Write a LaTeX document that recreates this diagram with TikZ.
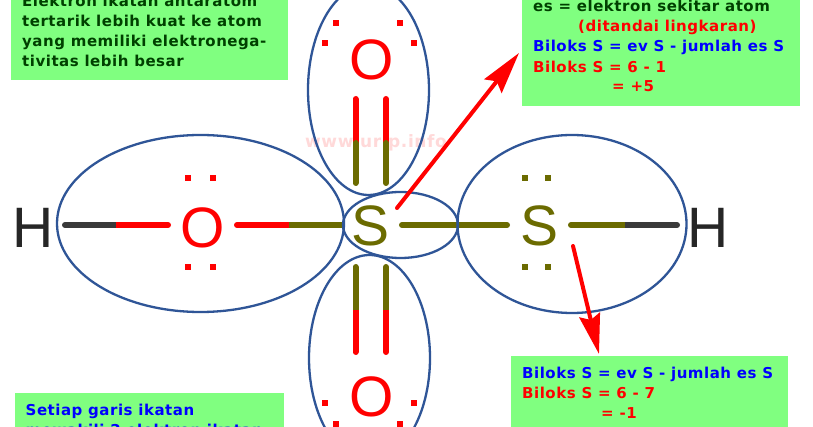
\documentclass[tikz,border=0pt]{standalone}
\usepackage{fontspec}
\usetikzlibrary{arrows.meta,shapes.geometric}
\setmainfont{DejaVu Sans}
\newfontfamily\boxfont[LetterSpace=3.5]{DejaVu Sans Bold}
\newfontfamily\atomfont{Liberation Sans}
\definecolor{boxgreen}{HTML}{80FF80}
\definecolor{darkgreen}{HTML}{004000}
\definecolor{olivebond}{HTML}{6B6B00}
\definecolor{ringblue}{HTML}{2F5597}
\definecolor{bonddark}{HTML}{3A3A3A}
\definecolor{wmpink}{HTML}{FFD9D9}
\tikzset{
  x=1pt,y=-1pt,
  ring/.style={draw=ringblue,line width=2.3pt,ellipse,inner sep=0pt},
  bond/.style={line width=6pt,line cap=round},
  panel/.style={fill=boxgreen,draw=none},
  txt/.style={font=\boxfont\fontsize{15}{17}\selectfont,anchor=base west,inner sep=0pt},
  atomlabel/.style={font=\atomfont\fontsize{57}{57}\selectfont,inner sep=0pt},
  edot/.style={minimum size=6.6pt,inner sep=0pt,rectangle,fill=red,draw=none},
  sdot/.style={edot,fill=olivebond},
  pointer/.style={red,line width=4pt,line cap=round}
}
\begin{document}
\begin{tikzpicture}
\useasboundingbox (0,0) rectangle (813,427);
\clip (0,0) rectangle (813,427);
\fill[white] (0,0) rectangle (813,427);
% panels
\fill[panel] (11,-2) rectangle (288,80);
\fill[panel] (522,-2) rectangle (800,106);
\fill[panel] (15,393) rectangle (284,429);
\fill[panel] (511,356) rectangle (788,429);
% watermark
\node[font=\boxfont\fontsize{17}{17}\selectfont,text=wmpink,anchor=base west,inner sep=0pt] (wm) at (305,148) {www.urip.info};
% bonds
\begin{scope}[bond]
\draw[bonddark] (65,225) -- (116,225);
\draw[red,line cap=butt] (116,225) -- (140,225);
\draw[red] (140,225) -- (168,225);
\draw[red] (237,225) -- (289,225);
\draw[olivebond,line cap=butt] (289,225) -- (342,225);
\draw[olivebond] (402,225) -- (507,225);
\draw[olivebond] (571,225) -- (625,225);
\draw[bonddark] (625,225) -- (677,225);
\draw[olivebond,line cap=butt] (600,225) -- (625,225);
\foreach \x in {355.5,386}{
  \draw[red] (\x,99) -- (\x,143);
  \draw[olivebond] (\x,143) -- (\x,183);
  \draw[red] (\x,310) -- (\x,352);
  \draw[olivebond] (\x,267) -- (\x,310);
  \draw[olivebond,line cap=butt] (\x,143) -- (\x,160);
  \draw[red,line cap=butt] (\x,300) -- (\x,320);
  \draw[olivebond,line cap=butt] (\x,290) -- (\x,310);
}
\end{scope}
% atoms
\node[atomlabel,text=black!85] (h1) at (33,228) {H};
\node[atomlabel,text=red] (o1) at (202.5,228) {O};
\node[atomlabel,text=olivebond] (s1) at (371,226) {S};
\node[atomlabel,text=olivebond] (s2) at (539.5,226) {S};
\node[atomlabel,text=black!85] (h2) at (708,228) {H};
\node[atomlabel,text=red] (o2) at (371.5,60) {O};
\node[atomlabel,text=red] (o3) at (371.5,397) {O};
% electron dots
\foreach \n/\x/\y in {a/336/23,b/400/23,c/325/43,d/414/43,e/188/178,f/213/178,g/188/267,h/213/267,i/325/403,j/414/403,k/336/424,l/400/424}
  \node[edot] (d\n) at (\x,\y) {};
\foreach \n/\x/\y in {a/525/178,b/548/178,c/525/267,d/548/267}
  \node[sdot] (ds\n) at (\x,\y) {};
% rings
\node[ring,minimum width=287pt,minimum height=177pt] (r1) at (200.5,223.5) {};
\node[ring,minimum width=229pt,minimum height=178pt] (r2) at (572,224) {};
\node[ring,minimum width=115pt,minimum height=66pt] (r3) at (400.5,225) {};
\node[ring,minimum width=121pt,minimum height=210pt] (r4) at (368.5,90) {};
\node[ring,minimum width=121pt,minimum height=206pt] (r5) at (369.5,358) {};
% pointers
\coordinate (t1) at (397,208);
\coordinate (t1e) at (519,53);
\coordinate (t2) at (573,246);
\coordinate (t2e) at (599,354);
\draw[pointer,-{Stealth[length=42pt,width=22pt,inset=6pt]}] (t1) -- (t1e);
\draw[pointer,-{Stealth[length=40pt,width=21pt,inset=5pt]}] (t2) -- (t2e);
% texts
\node[txt,text=darkgreen] (a1) at (22,7) {Elektron ikatan antaratom};
\node[txt,text=darkgreen] (a2) at (22,27) {tertarik lebih kuat ke atom};
\node[txt,text=darkgreen] (a3) at (22,47) {yang memiliki elektronega-};
\node[txt,text=darkgreen] (a4) at (22,67) {tivitas lebih besar};
\node[txt,text=darkgreen] (b1) at (533,12) {es = elektron sekitar atom};
\node[txt,text=red] (b2) at (578,32) {(ditandai lingkaran)};
\node[txt,text=blue] (b3) at (533,52) {Biloks S = ev S - jumlah es S};
\node[txt,text=red] (b4) at (533,72.5) {Biloks S = 6 - 1};
\node[txt,text=red] (b5) at (612,92) {= +5};
\node[txt,text=blue] (c1) at (25.5,415) {Setiap garis ikatan};
\node[txt,text=blue] (c2) at (25.5,435) {mewakili 2 elektron ikatan};
\node[txt,text=blue] (d1) at (522,378) {Biloks S = ev S - jumlah es S};
\node[txt,text=red] (d2) at (522,398) {Biloks S = 6 - 7};
\node[txt,text=red] (d3) at (601,418) {= -1};
\end{tikzpicture}
\end{document}
